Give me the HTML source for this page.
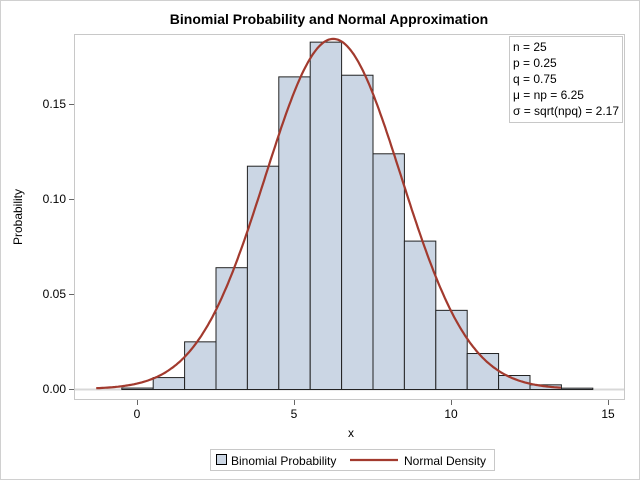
<!DOCTYPE html>
<html><head><meta charset="utf-8"><style>
body{margin:0;background:#fff}
svg text{font-family:"Liberation Sans",Arial,sans-serif;fill:#000}
</style></head><body>
<svg id="s" width="640" height="480" xmlns="http://www.w3.org/2000/svg">
<rect x="0.5" y="0.5" width="639" height="479" fill="#fff" stroke="#d0d0d0"/>
<text x="329" y="24" font-size="14" font-weight="bold" text-anchor="middle">Binomial Probability and Normal Approximation</text>
<rect x="74.5" y="34.5" width="550" height="365" fill="#fff" stroke="#c8c8c8"/>
<line x1="75" y1="389.5" x2="624" y2="389.5" stroke="#d8d8d8" stroke-width="2"/>
<g id="bars"></g>
<path id="curve" fill="none" stroke="#a23a2e" stroke-width="2.2"/>
<g font-size="12" text-anchor="end">
<text x="66" y="393">0.00</text><text x="66" y="298">0.05</text><text x="66" y="203">0.10</text><text x="66" y="108">0.15</text>
</g>
<g stroke="#666"><line x1="69" y1="389.5" x2="74" y2="389.5"/><line x1="69" y1="294.5" x2="74" y2="294.5"/><line x1="69" y1="199.5" x2="74" y2="199.5"/><line x1="69" y1="104.5" x2="74" y2="104.5"/>
<line x1="137.5" y1="400" x2="137.5" y2="405"/><line x1="294.5" y1="400" x2="294.5" y2="405"/><line x1="451.5" y1="400" x2="451.5" y2="405"/><line x1="608.5" y1="400" x2="608.5" y2="405"/></g>
<g font-size="12" text-anchor="middle">
<text x="137" y="418">0</text><text x="294" y="418">5</text><text x="451" y="418">10</text><text x="608" y="418">15</text>
<text x="351" y="437">x</text>
<text transform="translate(22,217) rotate(-90)">Probability</text>
</g>
<rect x="509.5" y="36.5" width="113" height="86" fill="#fff" stroke="#c8c8c8"/>
<g font-size="12"><text x="513" y="51">n = 25</text><text x="513" y="67">p = 0.25</text><text x="513" y="83">q = 0.75</text><text x="513" y="99">μ = np = 6.25</text><text x="513" y="115" textLength="106">σ = sqrt(npq) = 2.17</text></g>
<rect x="210.5" y="449.5" width="284" height="21" fill="#fff" stroke="#c8c8c8"/>
<rect x="216.5" y="454.5" width="10" height="10" fill="#cbd6e4" stroke="#000"/>
<text x="231" y="465" font-size="12">Binomial Probability</text>
<line x1="350" y1="460" x2="398" y2="460" stroke="#a23a2e" stroke-width="2.2"/>
<text x="404" y="465" font-size="12">Normal Density</text>
</svg>
<script>
var X=function(v){return 137+v*31.4},Y=function(p){return 389-p*1900};
var n=25,p=0.25,h='';
function C(n,k){var r=1;for(var i=1;i<=k;i++)r=r*(n-k+i)/i;return r}
for(var k=0;k<=14;k++){var pr=C(n,k)*Math.pow(p,k)*Math.pow(1-p,n-k);var x0=X(k-0.5),x1=X(k+0.5),y=Y(pr);
h+='<rect x="'+(x0+0.5)+'" y="'+(y+0.5)+'" width="'+(x1-x0)+'" height="'+Math.max(389-y,0.5)+'" fill="#cbd6e4" stroke="#222"/>';}
document.getElementById('bars').innerHTML=h;
var mu=6.25,sd=Math.sqrt(25*.25*.75),d='';
for(var v=-1.3;v<=13.55;v+=0.05){var f=Math.exp(-(v-mu)*(v-mu)/(2*sd*sd))/(sd*Math.sqrt(2*Math.PI));d+=(d?'L':'M')+X(v).toFixed(1)+' '+Y(f).toFixed(1);}
document.getElementById('curve').setAttribute('d',d);
</script>
</body></html>
